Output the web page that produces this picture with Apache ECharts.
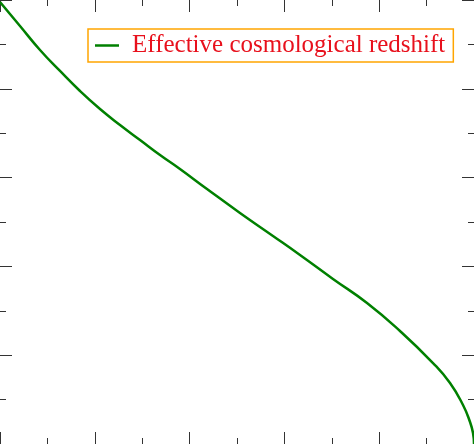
<!DOCTYPE html>
<html>
<head>
<meta charset="utf-8">
<title>Effective cosmological redshift</title>
<script src="https://cdn.jsdelivr.net/npm/echarts@6/dist/echarts.min.js"></script>
<style>
  html, body { margin: 0; padding: 0; background: #fff; }
  #chart { width: 474px; height: 444px; }
</style>
</head>
<body>
<div id="chart"></div>
<script>
// curve (axes normalised to 0..1, no labels shown)
const xValues = [0, 0.0422, 0.0844, 0.1266, 0.1688, 0.2110, 0.2532, 0.2954, 0.3376, 0.3797,
  0.4367, 0.5063, 0.5759, 0.6329, 0.7025, 0.7743, 0.8439, 0.9135, 0.9494, 0.9768,
  0.9916, 0.9979, 1.0]
const redshift = [0.9955, 0.9414, 0.8874, 0.8401, 0.7950, 0.7545, 0.7185, 0.6847, 0.6509, 0.6194,
  0.5743, 0.5203, 0.4685, 0.4257, 0.3718, 0.3176, 0.2545, 0.1824, 0.1374, 0.0878,
  0.0495, 0.0248, 0.0]
const seriesName = 'Effective cosmological redshift'

const chart = echarts.init(document.getElementById('chart'))

// frame axes: ticks only, pointing inwards
const tickAxis = (extra) => Object.assign({
  type: 'value',
  min: 0,
  max: 1,
  interval: 0.2,
  axisLine: { show: false, onZero: false },
  axisLabel: { show: false },
  splitLine: { show: false },
  axisTick: { show: true, inside: true, length: 12, lineStyle: { color: '#333', width: 1 } },
  minorTick: { show: true, splitNumber: 2, length: 6, lineStyle: { color: '#333', width: 1 } }
}, extra)

const option = {
  animation: false,
  backgroundColor: '#fff',
  grid: { left: 0, right: 0, top: 0, bottom: 0 },
  xAxis: [
    tickAxis({ position: 'bottom' }),
    tickAxis({ position: 'top' })
  ],
  yAxis: [
    tickAxis({ position: 'left' }),
    tickAxis({ position: 'right' })
  ],
  legend: {
    data: [seriesName],
    left: 88,
    top: 29,
    padding: [4, 8, 4, 7],
    borderColor: '#ffa500',
    borderWidth: 1.5,
    backgroundColor: '#fff',
    icon: 'rect',
    itemWidth: 24,
    itemHeight: 2.5,
    itemStyle: { color: '#008000' },
    textStyle: {
      color: '#e8101c',
      fontFamily: 'Liberation Serif',
      fontSize: 25,
      padding: [0, 0, 0, 8]
    }
  },
  series: [
    {
      name: seriesName,
      type: 'line',
      data: xValues.map((x, i) => [x, redshift[i]]),
      smooth: 0.5,
      showSymbol: false,
      lineStyle: { color: '#008000', width: 2.5 },
      itemStyle: { color: '#008000' }
    }
  ]
}

chart.setOption(option)
</script>
</body>
</html>
